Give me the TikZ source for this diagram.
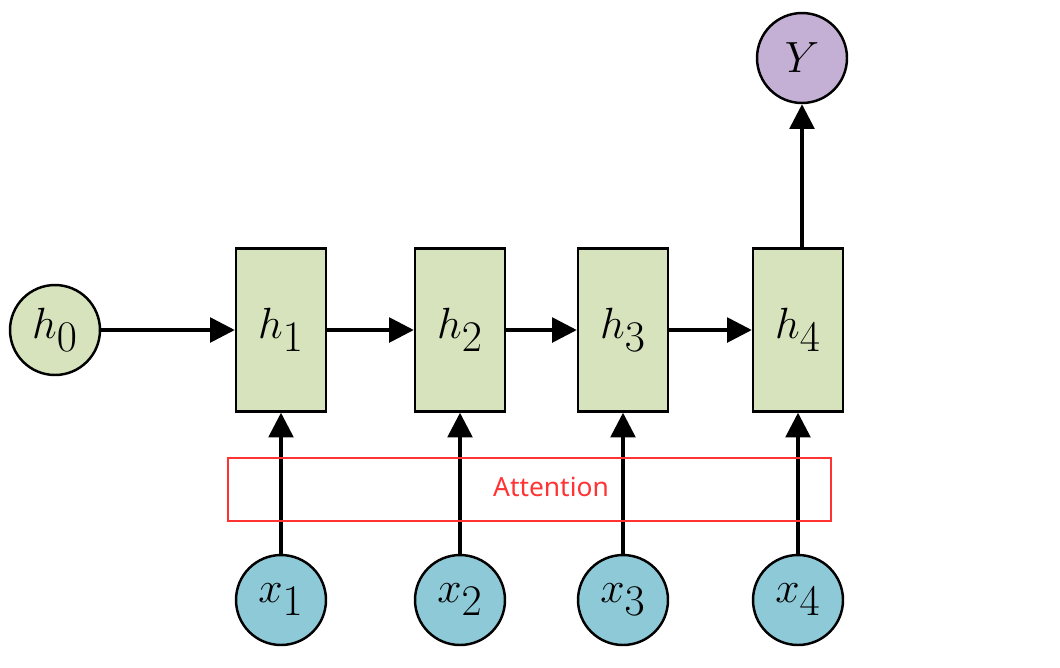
\documentclass[tikz,border=0pt]{standalone}
\usepackage{fontspec}
\setmainfont{Liberation Serif}
\newfontfamily\attfont{Noto Sans}
\usetikzlibrary{positioning, arrows.meta}
\definecolor{cellgreen}{RGB}{214,227,188}
\definecolor{inblue}{RGB}{142,201,216}
\definecolor{outpurple}{RGB}{196,176,212}
\begin{document}
\begin{tikzpicture}[x=0.02cm, y=-0.02cm,
  cell/.style={rectangle,draw,line width=1.4pt,fill=cellgreen,minimum width=1.8cm,minimum height=3.26cm,font=\fontsize{34}{36}\selectfont},
  state/.style={circle,draw,line width=1.4pt,minimum size=1.8cm,inner sep=0pt,font=\fontsize{34}{36}\selectfont},
  flow/.style={line width=2pt,-{Triangle[length=14pt,width=14pt]}}]
\useasboundingbox (0,0) rectangle (1060,667);
\node (h0) [state, fill=cellgreen] at (55,330) {$h_0$};
\node (h1) [cell] at (281,330) {$h_1$};
\node (h2) [cell] at (460,330) {$h_2$};
\node (h3) [cell] at (623,330) {$h_3$};
\node (h4) [cell] at (798,330) {$h_4$};
\node (y) [state, fill=outpurple] at (802,58) {$Y$};
\node (x1) [state, fill=inblue] at (281,600) {$x_1$};
\node (x2) [state, fill=inblue] at (460,600) {$x_2$};
\node (x3) [state, fill=inblue] at (623,600) {$x_3$};
\node (x4) [state, fill=inblue] at (798,600) {$x_4$};
\draw [flow] (h0) -- (h1);
\draw [flow] (h1) -- (h2);
\draw [flow] (h2) -- (h3);
\draw [flow] (h3) -- (h4);
\draw [flow] (h4.north -| y) -- (y);
\draw [flow] (x1) -- (h1);
\draw [flow] (x2) -- (h2);
\draw [flow] (x3) -- (h3);
\draw [flow] (x4) -- (h4);
\node (att) [draw=red!80, line width=1pt, minimum width=12.06cm, minimum height=1.26cm, inner sep=0pt] at (529.5,489.5) {};
\node (attlabel) [text=red!80, font=\attfont\fontsize{15}{18}\selectfont, fill=white, inner sep=1pt] at (551,487) {Attention};
\end{tikzpicture}
\end{document}
